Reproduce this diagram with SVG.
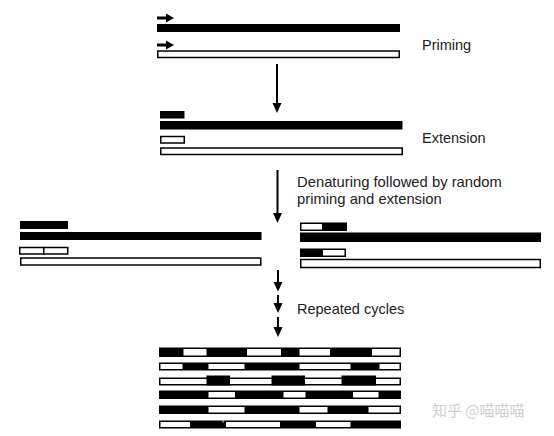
<svg xmlns="http://www.w3.org/2000/svg" width="554" height="436" viewBox="0 0 554 436">
<style>
.b{fill:#000}
.w{fill:#fff;stroke:#000;stroke-width:1.5}
.ws{fill:#fff}
.t{font-family:"Liberation Sans",Arial,sans-serif;font-size:14.5px;fill:#222}
.t2{font-size:14.8px}
.wm{font-family:"Noto Sans CJK SC","Liberation Sans",sans-serif;font-size:15px;fill:#cfcfcf}
.ln{stroke:#000;stroke-width:2;fill:none}
</style>
<rect width="554" height="436" fill="#fff"/>

<g id="priming">
<line x1="157" y1="18" x2="168" y2="18" stroke="#000" stroke-width="3"/>
<polygon points="166,13.5 174,18 166,22.5" fill="#000"/>
<rect class="b" x="157" y="24" width="243" height="8"/>
<line x1="157" y1="45" x2="168" y2="45" stroke="#000" stroke-width="3"/>
<polygon points="166,40.5 174,45 166,49.5" fill="#000"/>
<rect class="w" x="157.75" y="51" width="241.5" height="6.5"/>
<text class="t" x="422" y="49.5">Priming</text>
</g>

<g id="extension">
<rect class="b" x="160" y="111" width="24.5" height="7.5"/>
<rect class="b" x="160" y="121" width="242.5" height="8.5"/>
<rect class="w" x="160.75" y="136.5" width="23.5" height="6.5"/>
<rect class="w" x="160.75" y="148" width="241.5" height="6.5"/>
<text class="t" x="422" y="142.5">Extension</text>
</g>

<g id="left-product">
<rect class="b" x="20" y="221" width="48" height="8"/>
<rect class="b" x="20" y="232" width="241.5" height="8"/>
<rect class="w" x="19.75" y="247.5" width="24" height="6.5"/>
<rect class="w" x="43.75" y="247.5" width="24" height="6.5"/>
<rect class="w" x="20.75" y="258" width="240" height="7"/>
</g>

<g id="right-product">
<rect class="b" x="300" y="222.5" width="47" height="8.5"/>
<rect class="ws" x="301.5" y="224" width="20.5" height="5.5"/>
<rect class="b" x="300" y="232.5" width="241" height="9.5"/>
<rect class="b" x="300" y="248.5" width="46" height="8.5"/>
<rect class="ws" x="323" y="250" width="21.5" height="5.5"/>
<rect class="w" x="300.75" y="259.5" width="239.5" height="8"/>
</g>

<g id="labels">
<text class="t t2" x="297" y="187">Denaturing followed by random</text>
<text class="t t2" x="297" y="203.5">priming and extension</text>
<text class="t" x="297" y="314">Repeated cycles</text>
</g>

<g id="products">
<rect class="b" x="159" y="347.5" width="242" height="9.5"/>
<rect class="ws" x="183.5" y="349" width="23" height="6.5"/>
<rect class="ws" x="247" y="349" width="34" height="6.5"/>
<rect class="ws" x="299.5" y="349" width="30.5" height="6.5"/>
<rect class="ws" x="372" y="349" width="27.5" height="6.5"/>

<rect class="b" x="159" y="362.5" width="242" height="8"/>
<rect class="ws" x="160.5" y="364" width="22" height="5"/>
<rect class="ws" x="208.5" y="364" width="36" height="5"/>
<rect class="ws" x="299.5" y="364" width="51" height="5"/>
<rect class="ws" x="379.5" y="364" width="20" height="5"/>

<rect class="b" x="159" y="377.5" width="242" height="8"/>
<rect class="b" x="206.5" y="375.5" width="23.5" height="10"/>
<rect class="b" x="271.5" y="375.5" width="33.5" height="10"/>
<rect class="b" x="341.5" y="375.5" width="34.5" height="10"/>
<rect class="ws" x="160.5" y="379" width="46" height="5"/>
<rect class="ws" x="230" y="379" width="41.5" height="5"/>
<rect class="ws" x="305" y="379" width="36.5" height="5"/>
<rect class="ws" x="376" y="379" width="23.5" height="5"/>

<rect class="b" x="159" y="390.5" width="242" height="8.5"/>
<rect class="ws" x="208.5" y="392" width="26.5" height="5.5"/>
<rect class="ws" x="283.5" y="392" width="22" height="5.5"/>
<rect class="ws" x="353" y="392" width="25.5" height="5.5"/>

<rect class="b" x="159" y="405.5" width="242" height="8.5"/>
<rect class="ws" x="208.5" y="407" width="36" height="5.5"/>
<rect class="ws" x="299.5" y="407" width="28" height="5.5"/>
<rect class="ws" x="368.5" y="407" width="31" height="5.5"/>

<rect class="b" x="159" y="420.5" width="242" height="8"/>
<rect class="ws" x="160.5" y="422" width="29.5" height="5"/>
<rect class="ws" x="226" y="422" width="54" height="5"/>
<rect class="ws" x="316" y="422" width="34.5" height="5"/>
<rect class="ws" x="222.5" y="420.5" width="1" height="2"/>
</g>

<g id="connectors">
<line class="ln" x1="277" y1="64" x2="277" y2="104"/>
<polygon points="272.5,103 281.5,103 277,113" fill="#000"/>
<line class="ln" x1="277.5" y1="170" x2="277.5" y2="214"/>
<polygon points="273,213 282,213 277.5,223" fill="#000"/>
<line class="ln" x1="278" y1="270" x2="278" y2="283"/>
<polygon points="273.5,282 282.5,282 278,291.5" fill="#000"/>
<line class="ln" x1="278" y1="295" x2="278" y2="304"/>
<polygon points="273.5,303 282.5,303 278,313" fill="#000"/>
<line class="ln" x1="278" y1="317" x2="278" y2="328"/>
<polygon points="273.5,327 282.5,327 278,337" fill="#000"/>
</g>

<text class="wm" x="432" y="416">知乎 @喵喵喵</text>
</svg>
